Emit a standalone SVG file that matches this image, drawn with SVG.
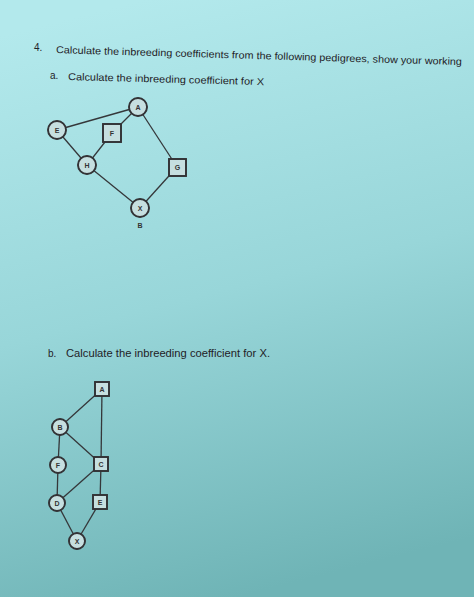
<svg xmlns="http://www.w3.org/2000/svg" width="474" height="597" viewBox="0 0 474 597">
<defs>
<linearGradient id="bg" x1="0.3" y1="0" x2="0.5" y2="1">
<stop offset="0" stop-color="#b3e9ec"/>
<stop offset="0.5" stop-color="#98d6d9"/>
<stop offset="1" stop-color="#6fb4b6"/>
</linearGradient>
<style>
text{font-family:"Liberation Sans",Arial,sans-serif;fill:#1f2227}
.t{font-size:10px}
.n{fill:none;stroke:#333336;stroke-width:1.9}
.in{fill:#c6dfe0;stroke:#3a3a3c;stroke-width:0.9}
.lb{font-size:7px;font-weight:bold;text-anchor:middle;fill:#333}
.e{stroke:#35373a;stroke-width:1.3;fill:none}
</style>
</defs>
<rect width="474" height="597" fill="url(#bg)"/>
<g id="header">
<text class="t" x="34" y="51">4.</text>
<text class="t" x="56" y="53" transform="rotate(1.7 56 53)" textLength="406" lengthAdjust="spacingAndGlyphs">Calculate the inbreeding coefficients from the following pedigrees, show your working</text>
<text class="t" x="50" y="79">a.</text>
<text class="t" x="68" y="80" transform="rotate(1.5 68 80)" textLength="196" lengthAdjust="spacingAndGlyphs">Calculate the inbreeding coefficient for X</text>
<text class="t" x="48" y="357">b.</text>
<text class="t" x="66" y="357" textLength="204" lengthAdjust="spacingAndGlyphs">Calculate the inbreeding coefficient for X.</text>
</g>
<g id="connectors">
<line class="e" x1="138" y1="107" x2="57" y2="130"/>
<line class="e" x1="138" y1="107" x2="112" y2="133"/>
<line class="e" x1="138" y1="107" x2="177" y2="167"/>
<line class="e" x1="57" y1="130" x2="87" y2="165"/>
<line class="e" x1="112" y1="133" x2="87" y2="165"/>
<line class="e" x1="87" y1="165" x2="140" y2="208"/>
<line class="e" x1="177" y1="167" x2="140" y2="208"/>
<line class="e" x1="102" y1="389" x2="60" y2="427"/>
<line class="e" x1="102" y1="389" x2="101" y2="464"/>
<line class="e" x1="60" y1="427" x2="58" y2="465"/>
<line class="e" x1="60" y1="427" x2="101" y2="464"/>
<line class="e" x1="58" y1="465" x2="57" y2="503"/>
<line class="e" x1="101" y1="464" x2="57" y2="503"/>
<line class="e" x1="101" y1="464" x2="100" y2="502"/>
<line class="e" x1="57" y1="503" x2="77" y2="541"/>
<line class="e" x1="100" y1="502" x2="77" y2="541"/>
</g>
<g id="a-A"><circle class="in" cx="138" cy="107" r="9"/><circle class="n" cx="138" cy="107" r="9"/><text class="lb" x="138" y="109.5">A</text></g>
<g id="a-E"><circle class="in" cx="57" cy="130" r="9"/><circle class="n" cx="57" cy="130" r="9"/><text class="lb" x="57" y="132.5">E</text></g>
<g id="a-F"><rect class="in" x="103" y="124" width="18" height="18"/><rect class="n" x="103" y="124" width="18" height="18"/><text class="lb" x="112" y="135.5">F</text></g>
<g id="a-H"><circle class="in" cx="87" cy="165" r="9"/><circle class="n" cx="87" cy="165" r="9"/><text class="lb" x="87" y="167.5">H</text></g>
<g id="a-G"><rect class="in" x="169" y="159" width="17" height="17"/><rect class="n" x="169" y="159" width="17" height="17"/><text class="lb" x="177.5" y="170">G</text></g>
<g id="a-X"><circle class="in" cx="140" cy="208" r="9"/><circle class="n" cx="140" cy="208" r="9"/><text class="lb" x="140" y="210.5">X</text></g>
<text class="lb" x="140" y="228">B</text>
<g id="b-A"><rect class="in" x="95" y="382" width="14" height="14"/><rect class="n" x="95" y="382" width="14" height="14"/><text class="lb" x="102" y="391.5">A</text></g>
<g id="b-B"><circle class="in" cx="60" cy="427" r="8"/><circle class="n" cx="60" cy="427" r="8"/><text class="lb" x="60" y="429.5">B</text></g>
<g id="b-F"><circle class="in" cx="58" cy="465" r="8"/><circle class="n" cx="58" cy="465" r="8"/><text class="lb" x="58" y="467.5">F</text></g>
<g id="b-C"><rect class="in" x="94" y="457" width="14" height="14"/><rect class="n" x="94" y="457" width="14" height="14"/><text class="lb" x="101" y="466.5">C</text></g>
<g id="b-D"><circle class="in" cx="57" cy="503" r="8"/><circle class="n" cx="57" cy="503" r="8"/><text class="lb" x="57" y="505.5">D</text></g>
<g id="b-E"><rect class="in" x="93" y="495" width="14" height="14"/><rect class="n" x="93" y="495" width="14" height="14"/><text class="lb" x="100" y="504.5">E</text></g>
<g id="b-X"><circle class="in" cx="77" cy="541" r="8"/><circle class="n" cx="77" cy="541" r="8"/><text class="lb" x="77" y="543.5">X</text></g>
</svg>
